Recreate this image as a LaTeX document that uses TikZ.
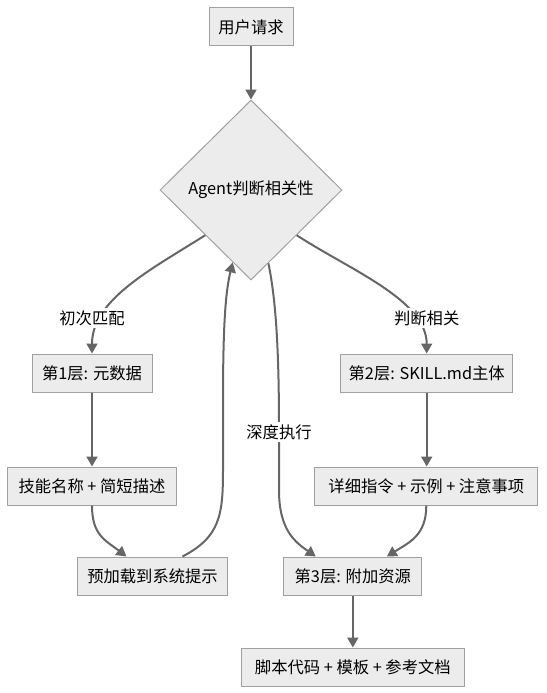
\documentclass[tikz,border=0pt]{standalone}
\usepackage{fontspec}
\setmainfont{Noto Sans CJK SC}
\usetikzlibrary{shapes.geometric,arrows.meta,calc}
\definecolor{boxfill}{HTML}{ECECEC}
\definecolor{boxline}{HTML}{A0A0A0}
\definecolor{flowline}{HTML}{666666}
\tikzset{
  box/.style={draw=boxline,fill=boxfill,line width=1pt,minimum height=38pt,
    inner xsep=6pt,inner ysep=0pt,font=\fontsize{16.3}{19}\selectfont},
  choice/.style={diamond,draw=boxline,fill=boxfill,line width=1pt,
    minimum width=182pt,minimum height=180pt,inner sep=0pt,font=\fontsize{16.3}{19}\selectfont},
  flow/.style={draw=flowline,line width=2pt,-{Triangle[length=10pt,width=11pt]}},
  tag/.style={fill=white,inner sep=2pt,font=\fontsize{16.3}{19}\selectfont}
}
\begin{document}
\begin{tikzpicture}[x=1pt,y=-1pt]
            \useasboundingbox (0,0) rectangle (546,693);
            \node[box,minimum width=84pt] (req) at (251,27) {用户请求};
            \node[choice] (dia) at (251,190) {Agent判断相关性};
            \node[box,minimum width=120pt] (meta) at (92,373) {第1层: 元数据};
            \node[box,minimum width=172pt] (body) at (426.7,373) {第2层: SKILL.md主体};
            \node[box,minimum width=169pt] (brief) at (92,486) {技能名称 + 简短描述};
            \node[box,minimum width=223pt] (detail) at (426.3,486) {详细指令 + 示例 + 注意事项};
            \node[box,minimum width=150pt] (preload) at (152.5,576) {预加载到系统提示};
            \node[box,minimum width=138pt] (extra) at (352.8,576) {第3层: 附加资源};
            \node[box,minimum width=223pt] (files) at (352.8,667) {脚本代码 + 模板 + 参考文档};
            \coordinate (back) at ($(dia.south)!0.4!(dia.south west)$);
            \coordinate (deep) at ($(dia.south)!0.38!(dia.south east)$);
            \draw[flow] (req) -- (dia.north);
            \draw[flow] (dia.south west) .. controls (150,270) and (92,300) .. (meta.north);
            \draw[flow] (dia.south east) .. controls (350,270) and (426.7,300) .. (body.north);
            \draw[flow] (meta) -- (brief);
            \draw[flow] (body.south) -- (body.south |- detail.north);
            \draw[flow] (brief.south) .. controls (92,535) and (105,540) .. ([xshift=-26pt]preload.north);
            \draw[flow] ([xshift=30pt]preload.north) .. controls (220,537) and (223,515) .. (223,470)
                -- (223,400) .. controls (223,320) and (226,290) .. (back);
            \draw[flow] (deep) .. controls (276,300) and (279,350) .. (279,430)
                -- (279,490) .. controls (279,530) and (295,542) .. ([xshift=-37pt]extra.north);
            \draw[flow] (detail.south) .. controls (426.3,535) and (410,542) .. ([xshift=34pt]extra.north);
            \draw[flow] (extra) -- (files);
            \node[tag] (first) at (92,318) {初次匹配};
            \node[tag] (match) at (426.7,318) {判断相关};
            \node[tag] (run) at (279,432) {深度执行};
        \end{tikzpicture}
\end{document}
